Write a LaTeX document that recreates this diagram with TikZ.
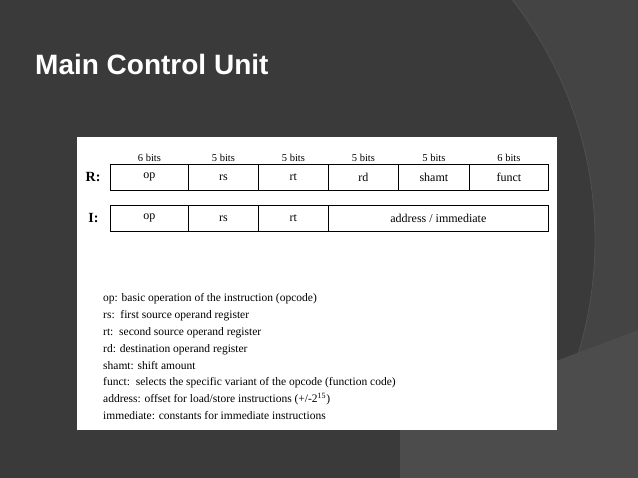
\documentclass[tikz,border=0pt]{standalone}
\usepackage{fontspec}
\setmainfont{Liberation Serif}
\newfontfamily\arialf{Liberation Sans}
\definecolor{bgA}{RGB}{58,58,58}
\definecolor{bgB}{RGB}{68,68,68}
\definecolor{bgC}{RGB}{76,76,76}
\definecolor{arcl}{RGB}{80,80,80}
\begin{document}
\begin{tikzpicture}[x=1pt,y=-1pt,
  cell/.style={draw=black,line width=0.8pt,minimum height=26pt,inner sep=0pt,anchor=north west,font=\fontsize{12}{14}\selectfont},
  bits/.style={font=\fontsize{10.5}{12}\selectfont,anchor=south,inner sep=2pt},
  note/.style={anchor=west,font=\fontsize{11.5}{13}\selectfont,inner sep=0pt}]
\useasboundingbox (0,0) rectangle (638,478);
\begin{scope}
\clip (0,0) rectangle (638,478);
\fill[bgB] (0,0) rectangle (638,478);
\fill[bgA] (205,240) circle (390);
\draw[arcl,line width=0.8pt] (205,240) circle (390);
\fill[bgC] (400,420) -- (638,330) -- (638,478) -- (400,478) -- cycle;
\end{scope}
\node[anchor=base west,text=white,font=\arialf\bfseries\fontsize{28}{32}\selectfont,inner sep=0pt] (title) at (35,75) {Main Control Unit};
\fill[white] (77,137) rectangle (557,430);
% R row
\node[cell,minimum width=78pt] (rop) at (110,164) {op};
\node[cell,minimum width=70pt] (rrs) at (188,164) {rs};
\node[cell,minimum width=70pt] (rrt) at (258,164) {rt};
\node[cell,minimum width=70pt] (rrd) at (328,164) {rd};
\node[cell,minimum width=71pt] (rsh) at (398,164) {shamt};
\node[cell,minimum width=79pt] (rfn) at (469,164) {funct};
\foreach \n/\t in {rop/6,rrs/5,rrt/5,rrd/5,rsh/5,rfn/6}
  \node[bits] (b\n) at (\n.north) {\t\ bits};
\node[font=\bfseries\fontsize{14}{16}\selectfont,anchor=east] (rl) at (104,177) {R:};
% I row
\node[cell,minimum width=78pt] (iop) at (110,205) {op};
\node[cell,minimum width=70pt] (irs) at (188,205) {rs};
\node[cell,minimum width=70pt] (irt) at (258,205) {rt};
\node[cell,minimum width=220pt] (iad) at (328,205) {address / immediate};
\node[font=\bfseries\fontsize{14}{16}\selectfont,anchor=east] (il) at (102,218) {I:};
% notes
\node[note] (n1) at (103,299) {op: basic operation of the instruction (opcode)};
\node[note] (n2) at (103,316) {rs:\ \ first source operand register};
\node[note] (n3) at (103,333) {rt:\ \ second source operand register};
\node[note] (n4) at (103,350) {rd: destination operand register};
\node[note] (n5) at (103,366) {shamt: shift amount};
\node[note] (n6) at (103,383) {funct:\ \ selects the specific variant of the opcode (function code)};
\node[note] (n7) at (103,399) {address: offset for load/store instructions (+/-2\textsuperscript{15})};
\node[note] (n8) at (103,416) {immediate: constants for immediate instructions};
\end{tikzpicture}
\end{document}
